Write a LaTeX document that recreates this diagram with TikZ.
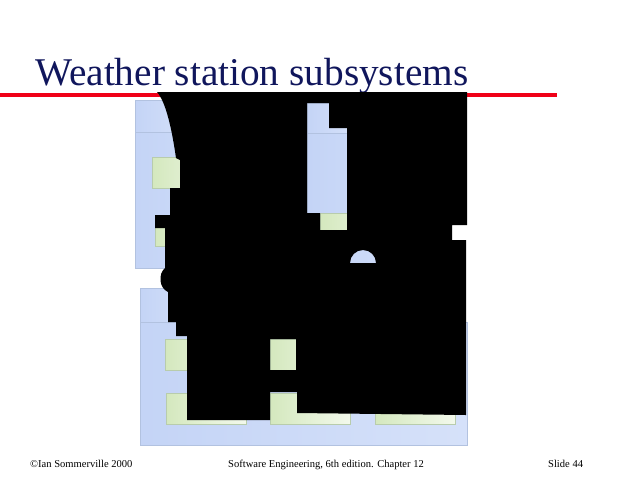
\documentclass[tikz,border=0pt]{standalone}
\usepackage{fontspec}
\setmainfont{Liberation Serif}
\definecolor{titleblue}{RGB}{16,22,92}
\definecolor{rulered}{RGB}{240,0,24}
\definecolor{pkgdark}{RGB}{196,212,246}
\definecolor{pkglight}{RGB}{240,245,255}
\definecolor{pkgline}{RGB}{178,194,224}
\definecolor{clsdark}{RGB}{212,232,190}
\definecolor{clslight}{RGB}{243,249,236}
\definecolor{clsline}{RGB}{184,204,172}

\begin{document}
\begin{tikzpicture}[
    x=0.04cm, y=-0.04cm,
    pkg/.style={draw=pkgline, left color=pkgdark, middle color=pkglight, right color=pkgdark!60!pkglight},
    cls/.style={draw=clsline, left color=clsdark, right color=clslight, anchor=north west, minimum width=3.2cm, minimum height=1.24cm, inner sep=0pt},
    blot/.style={fill=black, even odd rule},
    foot/.style={font=\fontsize{12}{14}\selectfont, anchor=base west, inner sep=0pt}
]
    \useasboundingbox (0,0) rectangle (638,478);

    % Title and rule
    \node[anchor=base west, inner sep=0pt, font=\fontsize{44.7}{50}\selectfont, text=titleblue] (title) at (35,85) {Weather station subsystems};
    \draw[rulered, line width=4pt] (0,95) -- (557,95);

    % Interface package
    \path[pkg] (135,100) rectangle (195,132);
    \path[pkg] (135,132) rectangle (292,268);
    \node[cls] (comms) at (152,157) {};
    \node[cls] (wstation) at (155,215) {};

    % Data collection package
    \path[pkg] (307,103) rectangle (355,133);
    \path[pkg] (307,133) rectangle (450,268);
    \node[cls] (wdata) at (320,213) {};

    % Instruments package
    \path[pkg] (140,288) rectangle (200,322);
    \path[pkg] (140,322) rectangle (467,445);
    \node[cls] (airtherm) at (165,339) {};
    \node[cls] (anemo) at (270,339) {};
    \node[cls] (baro) at (375,339) {};
    \node[cls] (groundtherm) at (166,393) {};
    \node[cls] (rain) at (270,393) {};
    \node[cls] (vane) at (375,393) {};

    % Black blot over the diagram
    \path[blot] (157,92) -- (467,92) -- (467,225) -- (452,225) -- (452,240) -- (466,240)
        -- (466,415) -- (297,413) -- (297,392) -- (270,392) -- (270,420) -- (187,420)
        -- (187,336) -- (176,336) -- (176,322) -- (168,322) -- (168,292)
        .. controls (159,288) and (158,274) .. (165,268) -- (165,249) -- (165,228)
        -- (155,228) -- (155,215) -- (170,215) -- (170,188) -- (180,188) -- (180,160)
        -- (176,158) .. controls (172,130) and (166,102) .. (157,92) -- cycle
        (307,103) -- (329,103) -- (329,128) -- (347,128) -- (347,230) -- (320,230)
        -- (320,213) -- (307,213) -- cycle
        (270,339) rectangle (296,370)
        (350,263) arc[start angle=180, end angle=360, radius=13] -- cycle;

    % Footer
    \node[foot] (copy) at (30,467) {\textcopyright Ian Sommerville 2000};
    \node[foot] (book) at (228,467) {Software Engineering, 6th edition. Chapter 12};
    \node[foot] (slide) at (548,467) {Slide 44};
\end{tikzpicture}
\end{document}
